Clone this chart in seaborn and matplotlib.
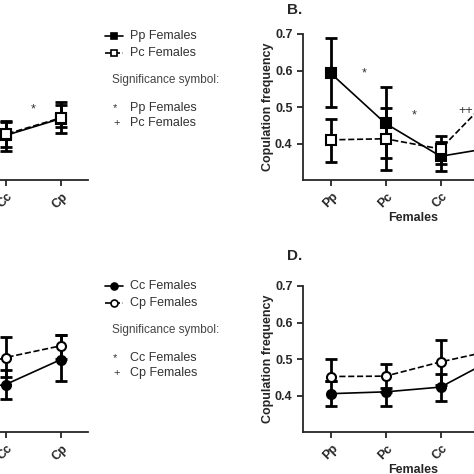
import numpy as np
import pandas as pd
import matplotlib
matplotlib.use("Agg")
import matplotlib.pyplot as plt
import seaborn as sns

sns.set_style("ticks")
plt.rcParams['font.family'] = ['Liberation Sans', 'DejaVu Sans']

females = ['Pp', 'Pc', 'Cc', 'Cp']

# panel A (only partly visible)
a_pp = [0.40, 0.41, 0.422, 0.468]
a_pp_lo = [0.36, 0.36, 0.38, 0.43]
a_pp_hi = [0.45, 0.46, 0.46, 0.515]
a_pc = [0.41, 0.42, 0.425, 0.47]
a_pc_lo = [0.37, 0.37, 0.39, 0.445]
a_pc_hi = [0.45, 0.46, 0.462, 0.505]

# panel B
b_pp = [0.593, 0.455, 0.365, 0.39]
b_pp_lo = [0.50, 0.36, 0.345, 0.35]
b_pp_hi = [0.69, 0.555, 0.405, 0.43]
b_pc = [0.41, 0.413, 0.385, 0.54]
b_pc_lo = [0.35, 0.328, 0.325, 0.48]
b_pc_hi = [0.467, 0.497, 0.42, 0.60]

# panel C (only partly visible)
c_cc = [0.40, 0.41, 0.43, 0.498]
c_cc_lo = [0.36, 0.37, 0.39, 0.44]
c_cc_hi = [0.44, 0.45, 0.47, 0.565]
c_cp = [0.45, 0.46, 0.504, 0.536]
c_cp_lo = [0.41, 0.42, 0.45, 0.50]
c_cp_hi = [0.49, 0.50, 0.56, 0.565]

# panel D
d_cc = [0.405, 0.41, 0.423, 0.503]
d_cc_lo = [0.37, 0.37, 0.385, 0.45]
d_cc_hi = [0.44, 0.42, 0.46, 0.55]
d_cp = [0.452, 0.453, 0.492, 0.525]
d_cp_lo = [0.44, 0.41, 0.43, 0.47]
d_cp_hi = [0.50, 0.485, 0.553, 0.58]

W = 474.0
fig = plt.figure(figsize=(4.74, 4.74), dpi=100)


def px_axes(x0, y0, x1, y1):
    return fig.add_axes([x0 / W, 1 - y1 / W, (x1 - x0) / W, (y1 - y0) / W])


def draw_panel(ax, s1, s2, marker, with_labels=True):
    x = np.arange(len(females))
    for (vals, lo, hi), ls, mfc in zip([s1, s2], ['-', '--'], ['black', 'white']):
        df = pd.DataFrame({'x': x, 'y': vals})
        sns.lineplot(data=df, x='x', y='y', ax=ax, color='black', linestyle=ls,
                     lw=1.2, marker=marker, markersize=6.5, markerfacecolor=mfc,
                     markeredgecolor='black', markeredgewidth=1.5, zorder=3)
        yerr = [np.array(vals) - np.array(lo), np.array(hi) - np.array(vals)]
        ax.errorbar(x, vals, yerr=yerr, fmt='none', ecolor='black',
                    elinewidth=2.0, capsize=4, capthick=2.0, zorder=2)
    ax.set_xlim(-0.5, 3.5)
    ax.set_ylim(0.3, 0.7)
    ax.set_yticks([0.4, 0.5, 0.6, 0.7])
    ax.set_yticklabels(['0.4', '0.5', '0.6', '0.7'], fontsize=9, fontweight='bold')
    ax.set_xticks(x)
    ax.set_xticklabels(females, rotation=45, fontsize=9, fontweight='bold')
    ax.tick_params(width=1.3, length=4)
    for sp in ['left', 'bottom']:
        ax.spines[sp].set_linewidth(1.3)
    sns.despine(ax=ax)
    if with_labels:
        ax.set_xlabel('Females', fontsize=9, fontweight='bold', labelpad=1)
        ax.set_ylabel('Copulation frequency', fontsize=9, fontweight='bold', labelpad=1)
    else:
        ax.set_xlabel('')
        ax.set_ylabel('')


axA = px_axes(-132, 34, 88, 180)
draw_panel(axA, (a_pp, a_pp_lo, a_pp_hi), (a_pc, a_pc_lo, a_pc_hi), 's', False)
axA.text(2.5, 0.485, '*', ha='center', fontsize=9, color='#333333')

axB = px_axes(303, 34, 523, 180)
draw_panel(axB, (b_pp, b_pp_lo, b_pp_hi), (b_pc, b_pc_lo, b_pc_hi), 's')
axB.text(0.62, 0.585, '*', ha='center', fontsize=9, color='#333333')
axB.text(1.52, 0.468, '*', ha='center', fontsize=9, color='#333333')
axB.text(2.45, 0.48, '++', ha='center', fontsize=9, color='#333333')
fig.text(287 / W, 1 - 14 / W, 'B.', fontsize=11, fontweight='bold')

axC = px_axes(-132, 286, 88, 432)
draw_panel(axC, (c_cc, c_cc_lo, c_cc_hi), (c_cp, c_cp_lo, c_cp_hi), 'o', False)

axD = px_axes(303, 286, 523, 432)
draw_panel(axD, (d_cc, d_cc_lo, d_cc_hi), (d_cp, d_cp_lo, d_cp_hi), 'o')
fig.text(287 / W, 1 - 260 / W, 'D.', fontsize=11, fontweight='bold')


def legend_block(y0, marker, names):
    for i, (name, ls, mfc) in enumerate(zip(names, ['-', '--'], ['black', 'white'])):
        yy = 1 - (y0 + 17 * i) / W
        fig.add_artist(plt.Line2D([105 / W, 123 / W], [yy, yy], color='black', ls=ls,
                                  lw=1.2, marker=None))
        fig.add_artist(plt.Line2D([114 / W], [yy], color='black', marker=marker,
                                  markersize=5, markerfacecolor=mfc, markeredgewidth=1.2))
        fig.text(130 / W, yy, name, va='center', fontsize=9, color='#333333')
    fig.text(112 / W, 1 - (y0 + 44) / W, 'Significance symbol:', va='center',
             fontsize=8.5, color='#444444')
    for j, (sym, name) in enumerate(zip(['*', '+'], names)):
        yy = 1 - (y0 + 72 + 15 * j) / W
        fig.text(113 / W, yy, sym, va='center', fontsize=8, color='#333333')
        fig.text(130 / W, yy, name, va='center', fontsize=9, color='#333333')


legend_block(36, 's', ['Pp Females', 'Pc Females'])
legend_block(286, 'o', ['Cc Females', 'Cp Females'])

fig.savefig('out.png', dpi=100)
